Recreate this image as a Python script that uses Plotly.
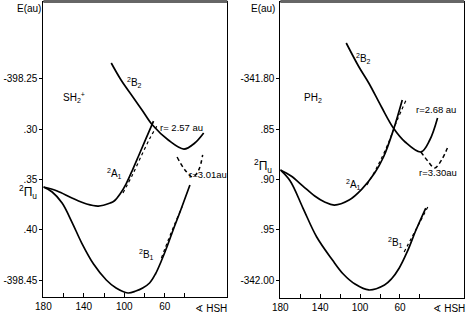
import plotly.graph_objects as go

# ---------------- SH2+ panel (left) ----------------
sh_b1_angle = [180, 171.3, 161.5, 151.8, 142.1, 130.4, 117.8, 108.1, 96.4, 88.6, 81.8, 75.0, 69.2, 63.4, 57.5, 51.7, 44.9, 35.1]
sh_b1_E = [-398.3575, -398.3624, -398.3734, -398.3923, -398.4132, -398.4341, -398.4500, -398.4580,
           -398.4629, -398.4610, -398.4580, -398.4530, -398.4440, -398.4311, -398.4162, -398.4002,
           -398.3823, -398.3555]
sh_b1_dot_angle = [63.3, 56.5, 49.7, 42.9]
sh_b1_dot_E = [-398.4281, -398.4102, -398.3933, -398.3774]

sh_a1_angle = [180, 166.4, 151.8, 137.2, 125.6, 113.9, 110.0, 104.2, 98.3, 91.5, 85.7, 78.9, 71.1]
sh_a1_E = [-398.3575, -398.3614, -398.3684, -398.3744, -398.3764, -398.3734, -398.3714, -398.3644,
           -398.3545, -398.3396, -398.3261, -398.3101, -398.2920]
sh_a1_dot_angle = [101.3, 91.5, 81.8, 74.0, 67.2]
sh_a1_dot_E = [-398.3634, -398.3445, -398.3236, -398.3077, -398.2958]

sh_b2_angle = [112.9, 103.2, 91.5, 81.8, 72.1, 56.5, 41.0, 30.3, 21.5]
sh_b2_E = [-398.2341, -398.2510, -398.2679, -398.2818, -398.2958, -398.3107, -398.3197, -398.3137, -398.3037]
sh_b2_dash_angle = [47.8, 40.0, 32.2, 26.4, 22.5]
sh_b2_dash_E = [-398.3276, -398.3405, -398.3475, -398.3405, -398.3256]

sh_ytick_vals = [-398.45, -398.40, -398.35, -398.30, -398.25]
sh_ytick_text = ["-398.45", ".40", ".35", ".30", "-398.25"]

# ---------------- PH2 panel (right) ----------------
ph_b1_angle = [180, 170.1, 157.3, 143.5, 127.7, 116.9, 105.1, 91.3, 75.5, 68.6, 60.7, 52.8, 43.9, 34.1]
ph_b1_E = [-341.8905, -341.9015, -341.9284, -341.9572, -341.9801, -341.9940, -342.0040, -342.0099,
           -342.0050, -341.9990, -341.9880, -341.9721, -341.9502, -341.9284]
ph_b1_dot_angle = [55.8, 47.9, 40.0, 32.1]
ph_b1_dot_E = [-341.9721, -341.9572, -341.9423, -341.9274]

ph_a1_angle = [180, 169.2, 157.3, 145.5, 135.6, 125.8, 111.0, 98.2, 85.4, 76.5, 66.6, 57.7]
ph_a1_E = [-341.8905, -341.8965, -341.9065, -341.9164, -341.9224, -341.9254, -341.9204, -341.9095,
           -341.8935, -341.8776, -341.8507, -341.8209]
ph_a1_dot_angle = [93.2, 82.4, 72.5, 62.7, 53.8]
ph_a1_dot_E = [-341.9055, -341.8866, -341.8657, -341.8408, -341.8209]

ph_b2_angle = [113.9, 101.1, 91.3, 78.5, 66.6, 54.8, 39.0, 30.1, 22.3]
ph_b2_E = [-341.7642, -341.7881, -341.8040, -341.8279, -341.8488, -341.8627, -341.8726, -341.8607, -341.8388]
ph_b2_dash_angle = [39.0, 32.1, 25.2, 18.3, 12.4]
ph_b2_dash_E = [-341.8726, -341.8816, -341.8886, -341.8806, -341.8687]

ph_ytick_vals = [-342.00, -341.95, -341.90, -341.85, -341.80]
ph_ytick_text = ["-342.00", ".95", ".90", ".85", "-341.80"]

xtick_vals = [180, 160, 140, 120, 100, 80, 60, 40]
xtick_text = ["180", "", "140", "", "100", "", "60", ""]

FONT = "Liberation Sans, Arial, DejaVu Sans, sans-serif"

fig = go.Figure()


def add_line(x, y, xa, ya, dash="solid", width=1.7):
    fig.add_trace(go.Scatter(
        x=x, y=y, mode="lines", xaxis=xa, yaxis=ya, hoverinfo="skip", showlegend=False,
        line=dict(color="black", width=width, dash=dash, shape="spline", smoothing=1.0)))


add_line(sh_b1_angle, sh_b1_E, "x", "y")
add_line(sh_b1_dot_angle, sh_b1_dot_E, "x", "y", "dot", 1.2)
add_line(sh_a1_angle, sh_a1_E, "x", "y")
add_line(sh_a1_dot_angle, sh_a1_dot_E, "x", "y", "dot", 1.2)
add_line(sh_b2_angle, sh_b2_E, "x", "y")
add_line(sh_b2_dash_angle, sh_b2_dash_E, "x", "y", "4px,3px", 1.5)

add_line(ph_b1_angle, ph_b1_E, "x2", "y2")
add_line(ph_b1_dot_angle, ph_b1_dot_E, "x2", "y2", "dot", 1.2)
add_line(ph_a1_angle, ph_a1_E, "x2", "y2")
add_line(ph_a1_dot_angle, ph_a1_dot_E, "x2", "y2", "dot", 1.2)
add_line(ph_b2_angle, ph_b2_E, "x2", "y2")
add_line(ph_b2_dash_angle, ph_b2_dash_E, "x2", "y2", "4px,3px", 1.5)

W, H = 474, 325
common_x = dict(showline=True, linecolor="black", linewidth=1, mirror=True, showgrid=False,
                zeroline=False, ticks="inside", ticklen=4, tickcolor="black",
                tickvals=xtick_vals, ticktext=xtick_text,
                tickfont=dict(family=FONT, size=10, color="black"))
common_y = dict(showline=True, linecolor="black", linewidth=1, mirror=True, showgrid=False,
                zeroline=False, ticks="outside", ticklen=3, tickcolor="black",
                tickfont=dict(family=FONT, size=10, color="black"))

fig.update_layout(
    width=W, height=H, margin=dict(l=0, r=0, t=0, b=0),
    paper_bgcolor="white", plot_bgcolor="white", showlegend=False,
    xaxis=dict(common_x, domain=[36 / W, 223 / W], range=[180, -1.8], anchor="y"),
    yaxis=dict(common_y, domain=[1 - 297 / H, 1 - 1.5 / H], range=[-398.4669, -398.1729],
               tickvals=sh_ytick_vals, ticktext=sh_ytick_text, anchor="x"),
    xaxis2=dict(common_x, domain=[277 / W, 464 / W], range=[180, -4.4], anchor="y2"),
    yaxis2=dict(common_y, domain=[1 - 298 / H, 1 - 1.5 / H], range=[-342.0179, -341.7229],
                tickvals=ph_ytick_vals, ticktext=ph_ytick_text, anchor="x2"),
)

# gray top border of each panel
for xa, ya in (("x", "y"), ("x2", "y2")):
    fig.add_shape(type="line", xref=xa + " domain", yref=ya + " domain", x0=0, x1=1, y0=1, y1=1,
                  line=dict(color="#666666", width=3))


def ann(text, x, y, xref, yref, size=10):
    fig.add_annotation(text=text, x=x, y=y, xref=xref, yref=yref, showarrow=False,
                       xanchor="center", yanchor="middle",
                       font=dict(family=FONT, size=size, color="black"))


# left panel labels
ann("E(au)", 21 / W, 1 - 9 / H, "paper", "paper")
ann("<sup>2</sup>B<sub>2</sub>", 89.6, -398.253, "x", "y")
ann("SH<sub>2</sub><sup>+</sup>", 149.9, -398.268, "x", "y")
ann("r= 2.57 au", 43.9, -398.2978, "x", "y", 9.5)
ann("r=3.01au", 16.8, -398.3455, "x", "y", 9.5)
ann("<sup>2</sup>A<sub>1</sub>", 110.0, -398.3445, "x", "y")
ann("<sup>2</sup>B<sub>1</sub>", 77.9, -398.4251, "x", "y")
ann("<sup>2</sup>Π<sub>u</sub>", 20 / W, 1 - 192 / H, "paper", "paper", 12)
ann("∢ HSH", 206 / W, 1 - 308 / H, "paper", "paper")

# right panel labels
ann("E(au)", 259 / W, 1 - 9 / H, "paper", "paper")
ann("<sup>2</sup>B<sub>2</sub>", 96.2, -341.7801, "x2", "y2")
ann("PH<sub>2</sub>", 147.5, -341.8189, "x2", "y2")
ann("r=2.68 au", 24.2, -341.8299, "x2", "y2", 9.5)
ann("r=3.30au", 22.3, -341.8935, "x2", "y2", 9.5)
ann("<sup>2</sup>A<sub>1</sub>", 107.0, -341.9045, "x2", "y2")
ann("<sup>2</sup>B<sub>1</sub>", 64.6, -341.9622, "x2", "y2")
ann("<sup>2</sup>Π<sub>u</sub>", 259 / W, 1 - 166 / H, "paper", "paper", 12)
ann("∢ HSH", 449 / W, 1 - 308 / H, "paper", "paper")

fig.write_html("out.html")
